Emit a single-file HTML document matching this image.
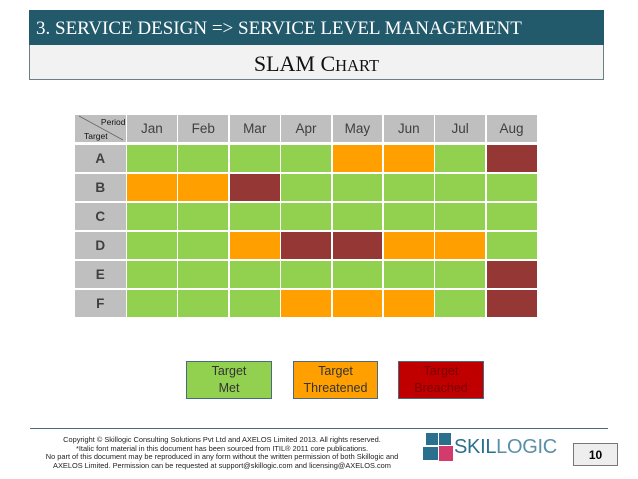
<!DOCTYPE html>
<html><head><meta charset="utf-8"><style>
body{margin:0;width:638px;height:479px;background:#fff;position:relative;overflow:hidden;font-family:"Liberation Sans",sans-serif}
.a{position:absolute}
.cell{position:absolute;display:flex;align-items:center;justify-content:center;font-size:13.5px;color:#404040}
</style></head><body>
<div class="a" style="left:29px;top:10px;width:575px;height:35px;background:#225a6b;color:#fff;font-family:'Liberation Serif',serif;font-size:19px;line-height:37px;padding-left:7px;box-sizing:border-box;white-space:nowrap">3. SERVICE DESIGN =&gt; SERVICE LEVEL MANAGEMENT</div>
<div class="a" style="left:29px;top:45px;width:575px;height:35px;background:#f2f2f2;border:1px solid #6d7f86;border-top:none;box-sizing:border-box;text-align:center;font-family:'Liberation Serif',serif;font-size:22px;line-height:38px;color:#111">SLAM C<span style="font-size:16.5px">HART</span></div>
<div id="chart"></div>
<div class="cell" style="left:186px;top:361px;width:86px;height:38px;background:#92d050;border:1px solid #4a6a80;box-sizing:border-box;text-align:center;font-size:12.5px;line-height:17px;color:#333">Target<br>Met</div>
<div class="cell" style="left:293px;top:361px;width:85px;height:38px;background:#ffa000;border:1px solid #4a6a80;box-sizing:border-box;font-size:12.5px;line-height:17px;text-align:center;color:#333">Target<br>Threatened</div>
<div class="cell" style="left:398px;top:361px;width:86px;height:38px;background:#c00000;border:1px solid #4a6a80;box-sizing:border-box;font-size:12.5px;line-height:17px;text-align:center;color:#7a0000">Target<br>Breached</div>
<div class="a" style="left:30px;top:428px;width:578px;height:1px;background:#4a6a80"></div>
<div class="a" style="left:22px;top:436px;width:400px;text-align:center;font-size:7.4px;line-height:8.7px;color:#222;white-space:nowrap">Copyright © Skillogic Consulting Solutions Pvt Ltd and AXELOS Limited 2013. All rights reserved.<br>*Italic font material in this document has been sourced from ITIL® 2011 core publications.<br>No part of this document may be reproduced in any form without the written permission of both Skillogic and<br>AXELOS Limited. Permission can be requested at support@skillogic.com and licensing@AXELOS.com</div>
<div class="a" style="left:423px;top:433px;width:32px;height:30px">
<div class="a" style="left:3px;top:0;width:12px;height:12px;background:#2b6f8e"></div>
<div class="a" style="left:16px;top:0;width:12px;height:12px;background:#2b6f8e"></div>
<div class="a" style="left:0;top:14px;width:15px;height:13px;background:#2b6f8e"></div>
<div class="a" style="left:16px;top:13px;width:14px;height:15px;background:#d23b6b"></div>
</div>
<div class="a" style="left:454px;top:436px;font-size:20px;color:#2b6f8e;letter-spacing:-0.3px">SKIL<span style="color:#5a8fa8">LOGIC</span></div>
<div class="a" style="left:573px;top:443px;width:45px;height:23px;background:#eee;border:1px solid #777;box-sizing:border-box;text-align:center;font-weight:bold;font-size:12px;line-height:22px">10</div>
<script>
const months=["Jan","Feb","Mar","Apr","May","Jun","Jul","Aug"];
const targets=["A","B","C","D","E","F"];
const statusA=["G","G","G","G","O","O","G","R"];
const statusB=["O","O","R","G","G","G","G","G"];
const statusC=["G","G","G","G","G","G","G","G"];
const statusD=["G","G","O","R","R","O","O","G"];
const statusE=["G","G","G","G","G","G","G","R"];
const statusF=["G","G","G","O","O","O","G","R"];
const grid=[statusA,statusB,statusC,statusD,statusE,statusF];
const colors={G:"#92d050",O:"#ffa000",R:"#953735"};
const c=document.getElementById('chart');
const x0=75,lw=52,cw=(538-127)/8,hy=115,hh=29,ry=145,rh=29;
function colX(i){return x0+lw+i*cw;}
function rowY(j){return ry+j*rh;}
function mk(l,t,w,h,bg,txt){const d=document.createElement('div');d.className='cell';d.style.cssText=`left:${l}px;top:${t}px;width:${w-1.5}px;height:${h-2}px;background:${bg}`;if(txt)d.textContent=txt;c.appendChild(d);return d;}
const corner=mk(x0,hy,lw,hh,"#bfbfbf","");


corner.innerHTML='<svg width="50" height="27" style="position:absolute;left:0;top:0"><line x1="4" y1="1" x2="48" y2="25" stroke="#666" stroke-width="0.8"/></svg><span style="position:absolute;right:0;top:2px;font-size:8.5px;color:#111">Period</span><span style="position:absolute;left:9px;bottom:1px;font-size:8.5px;color:#111">Target</span>';
months.forEach((m,i)=>{const d=mk(colX(i),hy,cw,hh,"#bfbfbf",m);

});
targets.forEach((t,j)=>{const d=mk(x0,rowY(j),lw,rh,"#bfbfbf",t);
d.style.fontWeight='bold';


grid[j].forEach((s,i)=>{const e=mk(colX(i),rowY(j),cw,rh,colors[s],"");

});});
</script>
</body></html>
